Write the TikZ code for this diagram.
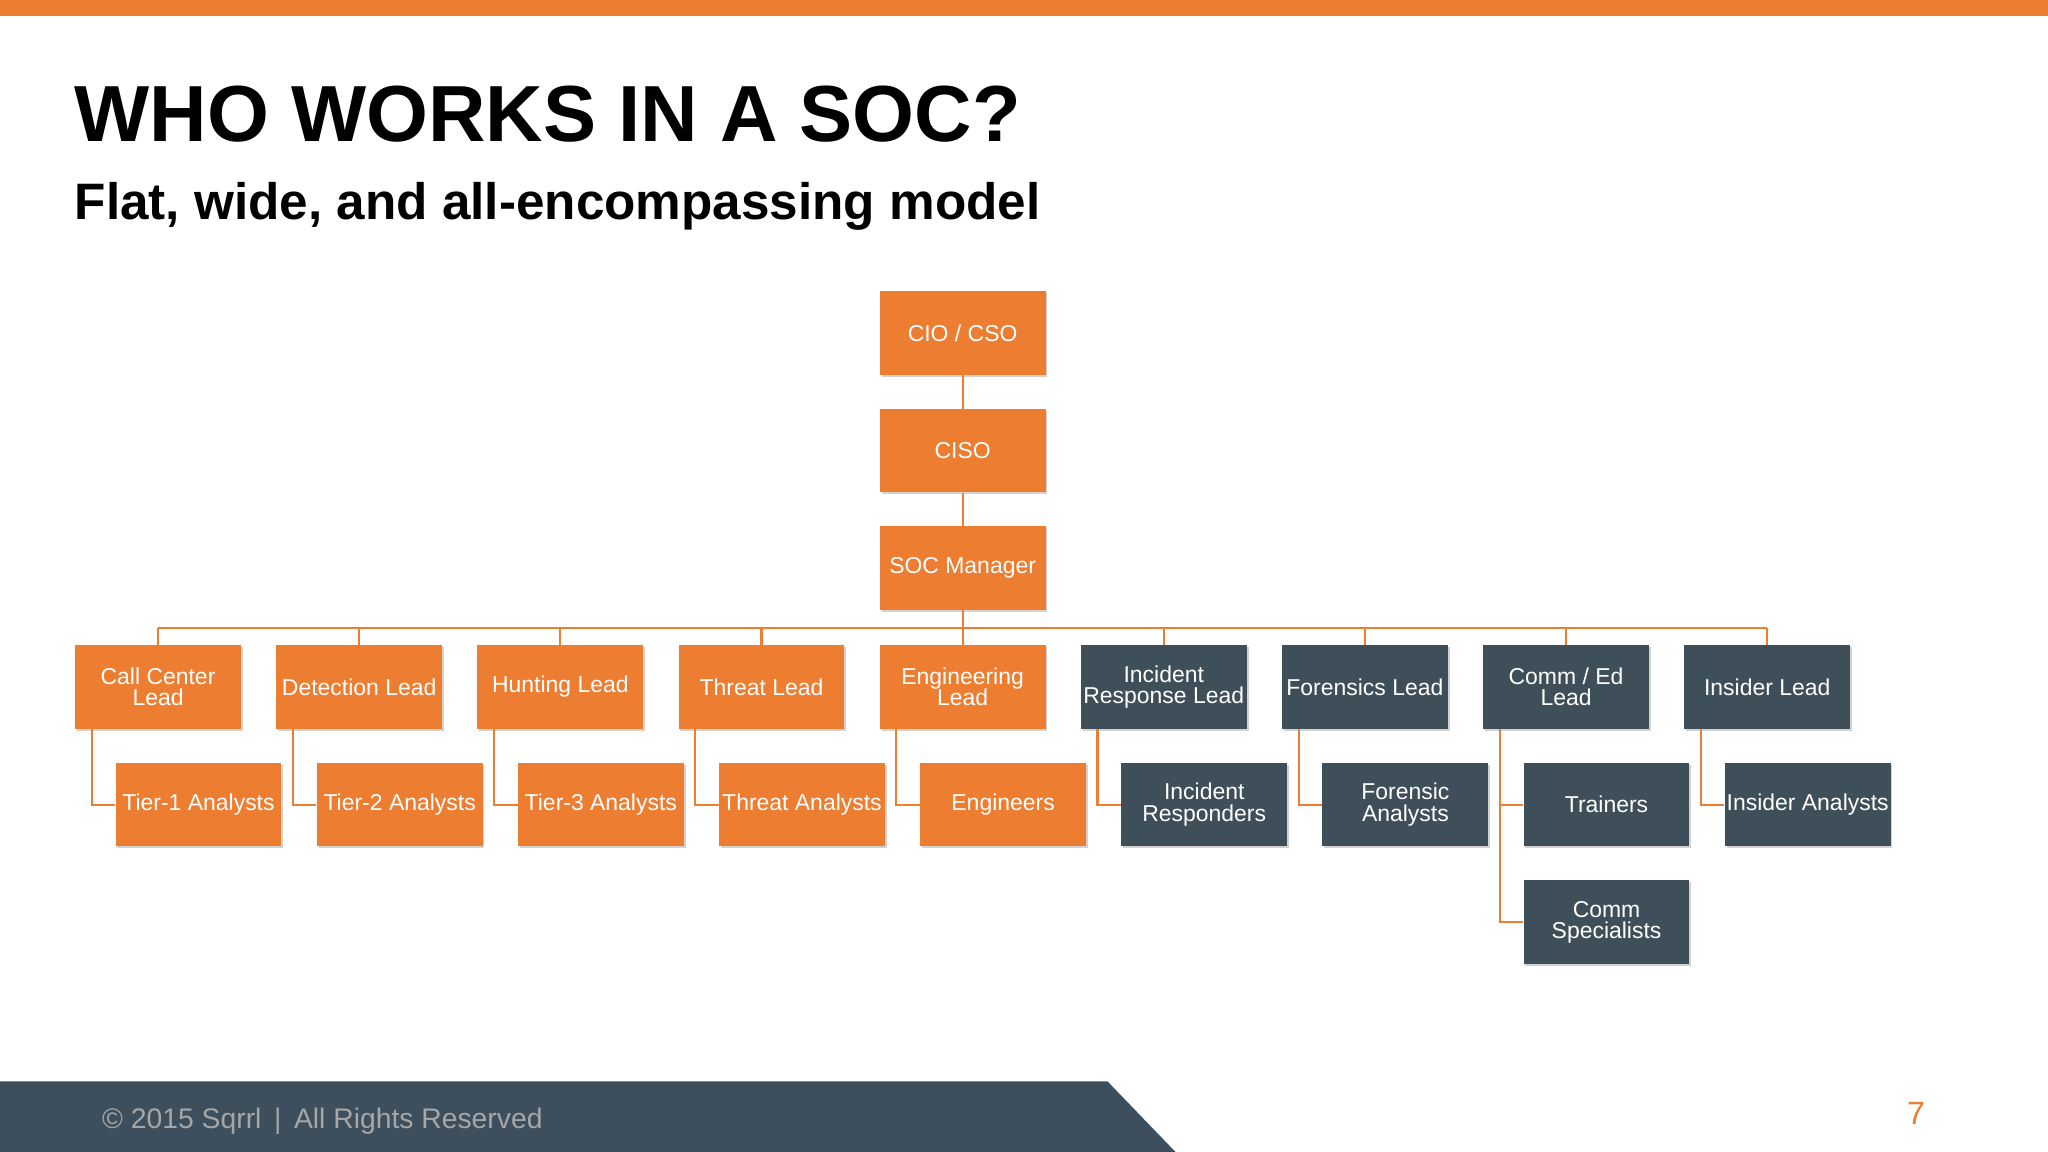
\documentclass[tikz,border=0pt]{standalone}
\usepackage{fontspec}
\setmainfont{Liberation Sans}
\usetikzlibrary{shadows}
\definecolor{org}{HTML}{ED7D31}
\definecolor{slate}{HTML}{3E4F5A}
\definecolor{foot}{HTML}{3D4F5C}
\definecolor{ftxt}{HTML}{A6A6A6}
\begin{document}
\begin{tikzpicture}[x=0.3mm,y=-0.3mm,
  bx/.style={minimum width=38.1mm,minimum height=19.2mm,inner sep=0pt,text=white,align=center,
    font=\fontsize{15}{14}\selectfont,drop shadow={opacity=0.35,shadow xshift=1.2pt,shadow yshift=-1.2pt}},
  ob/.style={bx,fill=org},
  db/.style={bx,fill=slate},
  ln/.style={draw=org,line width=1.4pt}]
\useasboundingbox (0,0) rectangle (1568,882);
\fill[white] (0,0) rectangle (1568,882);
\fill[org] (0,0) rectangle (1568,12);
\node[anchor=base west,inner sep=0,font=\fontsize{52}{56}\selectfont\bfseries] (title) at (57,108) {WHO WORKS IN A SOC?};
\node[anchor=base west,inner sep=0,font=\fontsize{33.5}{36}\selectfont\bfseries] (sub) at (57,168) {Flat, wide, and all-encompassing model};
\fill[foot] (0,828) -- (848,828) -- (900,882) -- (0,882) -- cycle;
\node[anchor=base west,inner sep=0,text=ftxt,font=\fontsize{18.5}{20}\selectfont] (copy) at (78,864) {© 2015 Sqrrl \,|\, All Rights Reserved};
\node[anchor=base,inner sep=0,text=org,font=\fontsize{21}{22}\selectfont] (pg) at (1467,861) {7};

\coordinate (busL) at (121,481);
\coordinate (busR) at (1353,481);
\draw[ln] (busL) -- (busR);

\node[ob] (cio) at (737,255) {CIO / CSO};
\node[ob] (ciso) at (737,345) {CISO};
\node[ob] (soc) at (737,435) {SOC Manager};
\draw[ln] (cio) -- (ciso);
\draw[ln] (ciso) -- (soc);
\draw[ln] (soc.south) -- (soc.south |- busL);

\foreach \n/\x/\c/\t in {l1/121/ob/{Call Center\\Lead},l2/275/ob/{Detection Lead},l3/429/ob/{Hunting Lead},l4/583/ob/{Threat Lead},l5/737/ob/{Engineering\\Lead},l6/891/db/{Incident\\Response Lead},l7/1045/db/{Forensics Lead},l8/1199/db/{Comm / Ed\\Lead},l9/1353/db/{Insider Lead}}{
  \node[\c] (\n) at (\x,526) {\t};
  \draw[ln] (\n.north) -- (\n.north |- busL);
}
\foreach \n/\l/\x/\c/\t in {s1/l1/152/ob/{Tier-1 Analysts},s2/l2/306/ob/{Tier-2 Analysts},s3/l3/460/ob/{Tier-3 Analysts},s4/l4/614/ob/{Threat Analysts},s5/l5/768/ob/{Engineers},s6/l6/922/db/{Incident\\Responders},s7/l7/1076/db/{Forensic\\Analysts},s8/l8/1230/db/{Trainers},s9/l9/1384/db/{Insider Analysts}}{
  \node[\c] (\n) at (\x,616) {\t};
  \draw[ln] ([xshift=3.9mm]\l.south west) |- (\n.west);
}
\node[db] (s10) at (1230,706) {Comm\\Specialists};
\draw[ln] ([xshift=3.9mm]l8.south west) |- (s10.west);
\end{tikzpicture}
\end{document}
